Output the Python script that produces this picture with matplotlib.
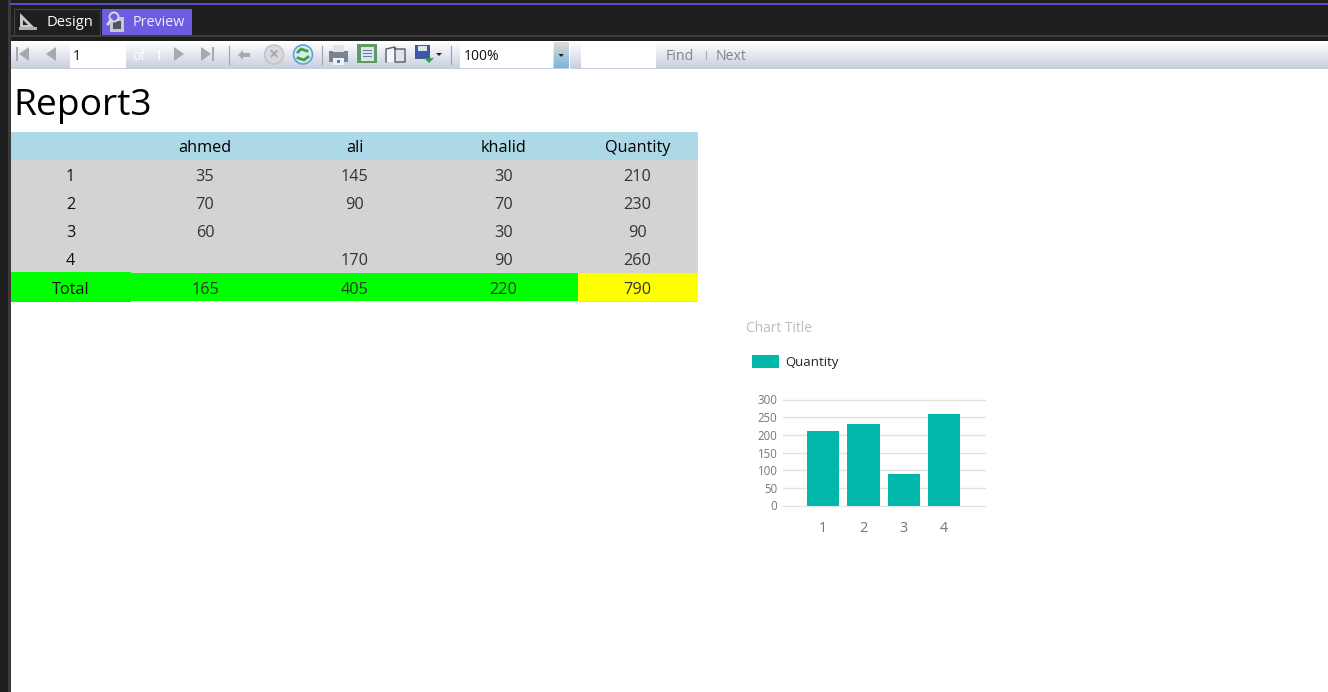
import numpy as np
import matplotlib
matplotlib.use("Agg")
import matplotlib.pyplot as plt
from matplotlib.patches import Rectangle, Polygon, Circle

plt.rcParams['font.family'] = ['Open Sans', 'DejaVu Sans']

# table data
headers = ["", "ahmed", "ali", "khalid", "Quantity"]
row_names = ["1", "2", "3", "4"]
ahmed = ["35", "70", "60", ""]
ali = ["145", "90", "", "170"]
khalid = ["30", "70", "30", "90"]
quantity = ["210", "230", "90", "260"]
totals = ["Total", "165", "405", "220", "790"]

# chart data
categories = ["1", "2", "3", "4"]
values = [210, 230, 90, 260]
y_ticks = [0, 50, 100, 150, 200, 250, 300]

W, H = 1328, 692
fig = plt.figure(figsize=(W / 100, H / 100), dpi=100, facecolor="white")

# whole window in pixels, y going down
ax = fig.add_axes([0, 0, 1, 1])
ax.set_xlim(0, W)
ax.set_ylim(H, 0)
ax.axis("off")


def box(x0, y0, x1, y1, color, **kw):
    ax.add_patch(Rectangle((x0, y0), x1 - x0, y1 - y0, facecolor=color, edgecolor="none", **kw))


def tri(pts, color):
    ax.add_patch(Polygon(pts, closed=True, facecolor=color, edgecolor="none"))


# dark window frame
box(0, 0, W, 41, "#1f1f1f")
box(0, 0, 11, H, "#1f1f1f")
box(8, 0, 11, H, "#3a3a3a")
box(10, 3, W, 5, "#5b4fc4")
box(10, 35, W, 36.5, "#3c3c3c")

# tabs
box(14, 9, 101, 35, "#1f1f1f")
ax.plot([14, 14, 100, 100], [35, 9, 9, 35], color="#444444", lw=0.8)
box(102, 9, 192, 35, "#6c5ce0")
ax.text(46, 23, "Design", color="white", fontsize=10.6, va="center")
ax.text(133, 23, "Preview", color="#f0eefc", fontsize=10.4, va="center")
tri([(20, 13), (20, 27), (34, 27)], "#c8c8c8")
tri([(23, 20), (23, 25), (28, 25)], "#1f1f1f")
box(19, 27, 37, 30, "#b0b0b0")
box(110, 17, 124, 32, "#c9c6d8")
box(113, 21, 121, 29, "#55525f")
ax.add_patch(Circle((114, 17), 4.5, facecolor="#6c5ce0", edgecolor="#d8d8d8", lw=1.4))
ax.plot([111, 108], [20, 24], color="#d8d8d8", lw=2)

# toolbar gradient
grad = np.linspace(0, 1, 28).reshape(-1, 1)
grad = np.dstack([1 - grad * (1 - c) for c in (0.78, 0.81, 0.87)])
ax.imshow(grad, extent=(11, W, 69, 41), aspect="auto", zorder=0)
ax.set_xlim(0, W)
ax.set_ylim(H, 0)
box(11, 68.5, W, 69, "#b8c0d0")

box(70, 42, 126, 68, "white")
ax.text(73, 56, "1", fontsize=10, color="#111111", va="center")
ax.text(132, 56, "of", fontsize=10, color="white", va="center")
ax.text(155, 56, "1", fontsize=10, color="white", va="center")

# navigation icons
g = "#a6a9b0"
box(16, 47, 18, 61, g)
tri([(29, 47), (29, 61), (19, 54)], g)
tri([(56, 47), (56, 61), (46, 54)], g)
tri([(174, 47), (174, 61), (184, 54)], g)
tri([(201, 47), (201, 61), (211, 54)], g)
box(212, 47, 214, 61, g)
tri([(238, 55), (243, 50), (243, 60)], g)
box(243, 53, 250, 57, g)
ax.add_patch(Circle((274, 54.5), 9.5, facecolor="#d8d8de", edgecolor="#c0c0c4", lw=1))
ax.text(274, 54, "×", fontsize=13, color="#a8a8a8", ha="center", va="center", fontweight="bold")
ax.add_patch(Circle((303, 54.5), 9.5, facecolor="#d9eaf6", edgecolor="#5da3d8", lw=1.2))
ax.plot([298, 301, 307], [52, 49, 51], color="#3fa13f", lw=2)
ax.plot([298, 304, 308], [58, 60, 57], color="#3fa13f", lw=2)

# printer, page, book, save
box(329, 51, 348, 62, "#7d828c")
box(333, 45, 344, 52, "#dfe3ea")
box(333, 58, 344, 65, "#eef1f6")
box(337, 60, 340, 63, "#4a7fc0")
box(357, 44, 377, 63, "#5f9a63")
box(361, 47, 374, 61, "#dce4f2")
for yy in (50, 53, 56):
    box(363, yy, 372, yy + 1, "#6f7d99")
tri([(386, 49), (395, 47), (395, 62), (386, 62)], "#f4f5f8")
tri([(395, 49), (405, 49), (405, 62), (395, 62)], "#e0e4ec")
ax.plot([386, 386, 395, 395, 405, 405, 395], [62, 49, 47, 62, 62, 49, 49], color="#555b66", lw=1)
box(415, 45, 430, 59, "#3f55a8")
box(418, 46, 427, 51, "#dfe3ea")
tri([(424, 58), (434, 58), (429, 63)], "#2f9e4f")
tri([(436, 53), (442, 53), (439, 56)], "#222222")

for sx in (228.5, 321.5, 450.5):
    ax.plot([sx, sx], [46, 64], color="#9aa0ad", lw=0.8)

# zoom box and search
box(460, 42, 553, 68, "white")
ax.text(464, 57, "100%", fontsize=10, color="#111111", va="center")
btn = np.linspace(0, 1, 26).reshape(-1, 1)
btn = np.dstack([0.86 - btn * (0.86 - c) for c in (0.47, 0.72, 0.85)])
ax.imshow(btn, extent=(554, 569, 68, 42), aspect="auto", zorder=1)
ax.set_xlim(0, W)
ax.set_ylim(H, 0)
tri([(558.5, 54), (564, 54), (561, 57)], "#222222")
box(569, 42, 570, 69, "white")
box(581, 42, 656, 68, "white")
ax.text(666, 56, "Find", fontsize=10.2, color="#7f8794", va="center")
ax.plot([705.5, 705.5], [51, 59], color="#a8aeba", lw=0.8)
ax.text(716, 56, "Next", fontsize=10.2, color="#7f8794", va="center")

ax.text(13.5, 106, "Report3", fontsize=26.8, color="black", va="center")

# report table
col_edges = [11, 131, 280, 430, 578, 698]
row_top = [160, 188, 216, 244]
row_h = 28
body = [row_names, ahmed, ali, khalid, quantity]

box(11, 132, 698, 160, "#add8e6")
box(11, 160, 698, 273, "#d3d3d3")
box(131, 273, 578, 301, "#00ff00")
box(11, 272, 131, 302, "#00ff00")
box(578, 273, 698, 301, "#ffff00")
box(578, 301, 698, 302, "#d8d8a0")

for c in range(5):
    cx = (col_edges[c] + col_edges[c + 1]) / 2 - 0.5
    ax.text(cx, 148.5, headers[c], fontsize=11.7, color="black", ha="center", va="center")
    tcol = "#111111" if c == 0 else "#333333"
    for r in range(4):
        ax.text(cx, row_top[r] + row_h / 2 + 3, body[c][r], fontsize=11.7, color=tcol, ha="center", va="center")
    ax.text(cx, 289.5, totals[c], fontsize=11.7, color=tcol, ha="center", va="center")

# chart text
ax.text(746, 328, "Chart Title", fontsize=9.9, color="#bdbdbd", va="center")
box(752, 355, 779, 368, "#01b8aa")
ax.text(785.5, 362.5, "Quantity", fontsize=9.5, color="#222222", va="center")

# bar chart
cax = fig.add_axes([783 / W, 1 - 505.5 / H, 201.5 / W, 106 / H])
cax.set_xlim(0, 5)
cax.set_ylim(0, 300)
cax.patch.set_alpha(0)
pos = np.arange(1, len(categories) + 1)
cax.bar(pos, values, width=0.8, color="#01b8aa", zorder=3)
cax.set_xticks(pos)
cax.set_xticklabels(categories, fontsize=10.4, color="#777777")
cax.set_yticks(y_ticks)
cax.set_yticklabels([str(t) for t in y_ticks], fontsize=8.3, color="#777777")
cax.tick_params(axis="both", length=0)
cax.tick_params(axis="x", pad=11.5)
cax.tick_params(axis="y", pad=4)
cax.grid(axis="y", color="#e2e2e2", lw=1)
for l in cax.get_ygridlines():
    l.set_clip_on(False)
cax.set_axisbelow(True)
for s in cax.spines.values():
    s.set_visible(False)

fig.savefig("out.png", dpi=100)
